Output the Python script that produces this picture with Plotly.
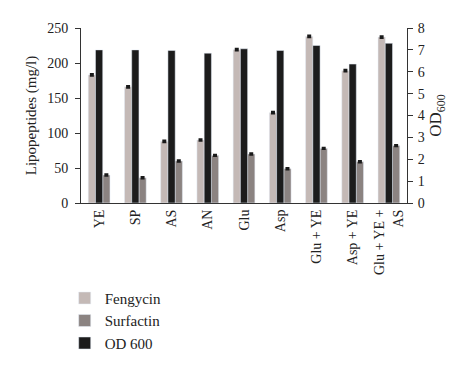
import plotly.graph_objects as go

categories = ["YE", "SP", "AS", "AN", "Glu", "Asp", "Glu + YE", "Asp + YE", "Glu + YE +<br>AS"]
fengycin = [183, 166, 88, 90, 219, 129, 238, 189, 237]
surfactin = [40, 36, 60, 68, 70, 49, 78, 59, 82]
od600 = [7.0, 7.0, 6.97, 6.85, 7.05, 6.97, 7.2, 6.35, 7.3]
fengycin_err = [1.2, 1.2, 1.2, 1.2, 1.2, 1.2, 1.2, 1.2, 1.2]
surfactin_err = [1.0, 1.0, 1.0, 1.0, 1.0, 1.0, 1.0, 1.0, 1.0]

FONT = "Liberation Serif, Times New Roman, serif"
W = 0.2

fig = go.Figure()
fig.add_trace(go.Bar(
    name="Fengycin", x=categories, y=fengycin, marker_color="#c4b9b6",
    width=W, offset=-0.3, yaxis="y",
    error_y=dict(type="data", array=fengycin_err, visible=True, color="#1a1a1a", thickness=2, width=2),
))
fig.add_trace(go.Bar(
    name="Surfactin", x=categories, y=surfactin, marker_color="#8b8381",
    width=W, offset=0.1, yaxis="y",
    error_y=dict(type="data", array=surfactin_err, visible=True, color="#1a1a1a", thickness=2, width=2),
))
fig.add_trace(go.Bar(
    name="OD 600", x=categories, y=od600, marker_color="#1c1c1c",
    width=W, offset=-0.1, yaxis="y2",
))

fig.update_layout(
    width=474, height=366,
    margin=dict(l=73, r=75, t=20, b=171, autoexpand=False),
    barmode="overlay",
    plot_bgcolor="white", paper_bgcolor="white",
    font=dict(family=FONT, size=14, color="#222222"),
    showlegend=True,
    legend=dict(x=-0.05, y=-0.45, xanchor="left", yanchor="top",
                font=dict(family=FONT, size=15), tracegroupgap=0, itemwidth=30,
                bgcolor="rgba(0,0,0,0)"),
    xaxis=dict(
        type="category", tickangle=-90, showline=True, linecolor="#333333", linewidth=1,
        ticks="", showgrid=False, tickfont=dict(family=FONT, size=14),
    ),
    yaxis=dict(
        range=[0, 250], dtick=50, showline=True, linecolor="#333333", linewidth=1,
        ticks="outside", ticklen=5, tickcolor="#333333", showgrid=False, zeroline=False,
        ticklabelstandoff=4,
        title=dict(text="Lipopeptides (mg/l)", font=dict(family=FONT, size=15), standoff=6),
        tickfont=dict(family=FONT, size=14),
    ),
    yaxis2=dict(
        range=[0, 8], dtick=1, overlaying="y", side="right", showline=True,
        linecolor="#333333", linewidth=1, ticks="outside", ticklen=5, tickcolor="#333333",
        showgrid=False, zeroline=False, ticklabelstandoff=2,
        title=dict(text="OD<sub>600</sub>", font=dict(family=FONT, size=17), standoff=5),
        tickfont=dict(family=FONT, size=14),
    ),
)

fig.write_html("out.html")
